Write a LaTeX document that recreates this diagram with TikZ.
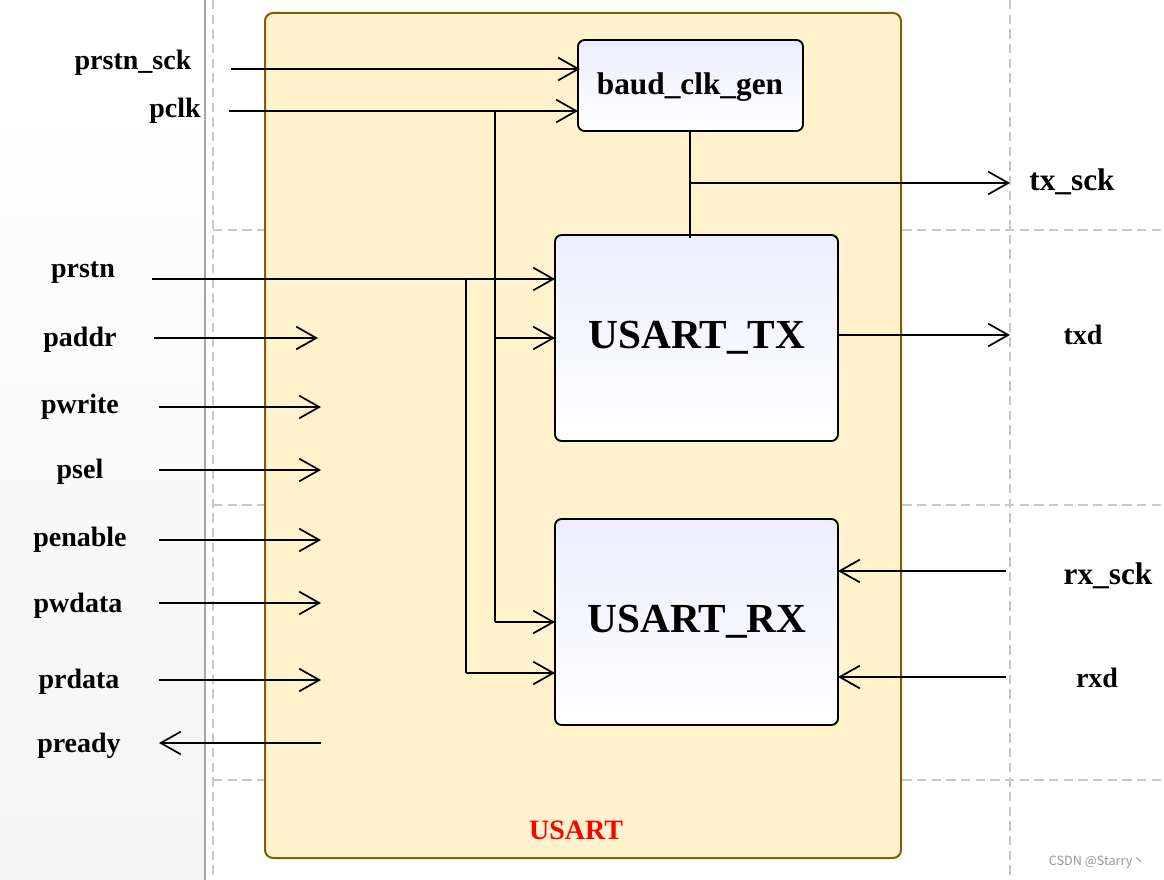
\documentclass[tikz,border=0pt]{standalone}
\usepackage{fontspec}
\setmainfont{Liberation Serif}
\newfontfamily\cjkwm{Noto Sans CJK SC}
\usetikzlibrary{arrows.meta}
\definecolor{boxfill}{HTML}{FFF2CC}
\definecolor{boxline}{HTML}{7F6000}
\definecolor{grid}{HTML}{C8C8C8}
\tikzset{
 sig/.style={draw,line width=1.3pt,-{Straight Barb[length=15pt,width=17pt,line width=1.3pt]}},
 wire/.style={draw,line width=1.3pt},
 lbl/.style={font=\fontsize{21}{24}\selectfont\bfseries},
 big/.style={font=\fontsize{23.5}{27}\selectfont\bfseries},
 gline/.style={grid,line width=0.8pt,dash pattern=on 7pt off 4pt}
}
\begin{document}
\begin{tikzpicture}[x=0.75pt,y=-0.75pt]
\useasboundingbox (0,0) rectangle (1164,880);
\fill[white] (0,0) rectangle (1164,880);
\shade[top color=white,bottom color=black!4] (0,0) rectangle (205,880);
\draw[black!35,line width=1pt] (205,0) -- (205,880);
\draw[gline] (213,0) -- (213,880);
\foreach \y in {230,505,780} \draw[gline] (213,\y) -- (1164,\y);
\draw[gline] (1010,0) -- (1010,880);
\draw[fill=boxfill,draw=boxline,line width=1.5pt,rounded corners=6pt] (265,13) rectangle (901,858);
\foreach \n/\a/\b/\c/\d in {baud/578/40/803/131,tx/555/235/838/441,rx/555/519/838/725}{
 \shade[shading=axis,shading angle=45,top color=blue!7!white,bottom color=white,rounded corners=5pt] (\a,\b) rectangle (\c,\d);
 \draw[line width=1.4pt,rounded corners=5pt] (\a,\b) rectangle (\c,\d);
 \coordinate (\n) at ({(\a+\c)/2},{(\b+\d)/2});
}
\node[big] (baudl) at (690,87) {baud\_clk\_gen};
\node[font=\fontsize{31}{34}\selectfont\bfseries] (txl) at (697,338) {USART\_TX};
\node[font=\fontsize{31}{34}\selectfont\bfseries] (rxl) at (697,622) {USART\_RX};
\node[lbl,text=red] (usart) at (576,830) {USART};
\node[lbl] (l1) at (133,63) {prstn\_sck};
\node[lbl] (l2) at (175,111) {pclk};
\coordinate (a1) at (231,69); \coordinate (b1) at (580,69);
\coordinate (a2) at (229,111); \coordinate (b2) at (578,111);
\draw[sig] (a1) -- (b1);
\draw[sig] (a2) -- (b2);
\coordinate (v1) at (495,111); \coordinate (v1a) at (495,338); \coordinate (v1b) at (495,622);
\draw[wire] (v1) -- (v1b);
\draw[sig] (v1a) -- (555,338);
\draw[sig] (v1b) -- (555,622);
\node[lbl] (l3) at (83,273) {prstn};
\coordinate (a3) at (152,279);
\draw[sig] (a3) -- (555,279);
\coordinate (v2) at (466,279); \coordinate (v2b) at (466,673);
\draw[wire] (v2) -- (v2b);
\draw[sig] (v2b) -- (555,673);
\coordinate (bb) at (690,131); \coordinate (tt) at (690,238); \coordinate (br) at (690,183);
\draw[wire] (bb) -- (tt);
\draw[sig] (br) -- (1010,183);
\node[big] (ltx) at (1072,182) {tx\_sck};
\draw[sig] (838,335) -- (1010,335);
\node[lbl] (ltxd) at (1083,335) {txd};
\draw[sig] (1006,571) -- (838,571);
\node[big] (lrs) at (1108,576) {rx\_sck};
\draw[sig] (1006,677) -- (838,677);
\node[lbl] (lrxd) at (1097,678) {rxd};
\foreach \t/\lx/\ly/\s/\e/\y in {paddr/80/340/154/318/338,pwrite/80/407/159/321/407,psel/80/472/159/321/470,penable/80/540/159/321/540,pwdata/78/606/159/321/603,prdata/79/682/159/321/680}{
 \node[lbl] (n\t) at (\lx,\ly) {\t};
 \draw[sig] (\s,\y) -- (\e,\y);
}
\node[lbl] (npready) at (79,746) {pready};
\draw[sig] (321,743) -- (159,743);
\node[font=\fontsize{9.5}{10}\selectfont\cjkwm,text=black!40] (wm) at (1097,862) {CSDN @Starry丶};
\end{tikzpicture}
\end{document}
